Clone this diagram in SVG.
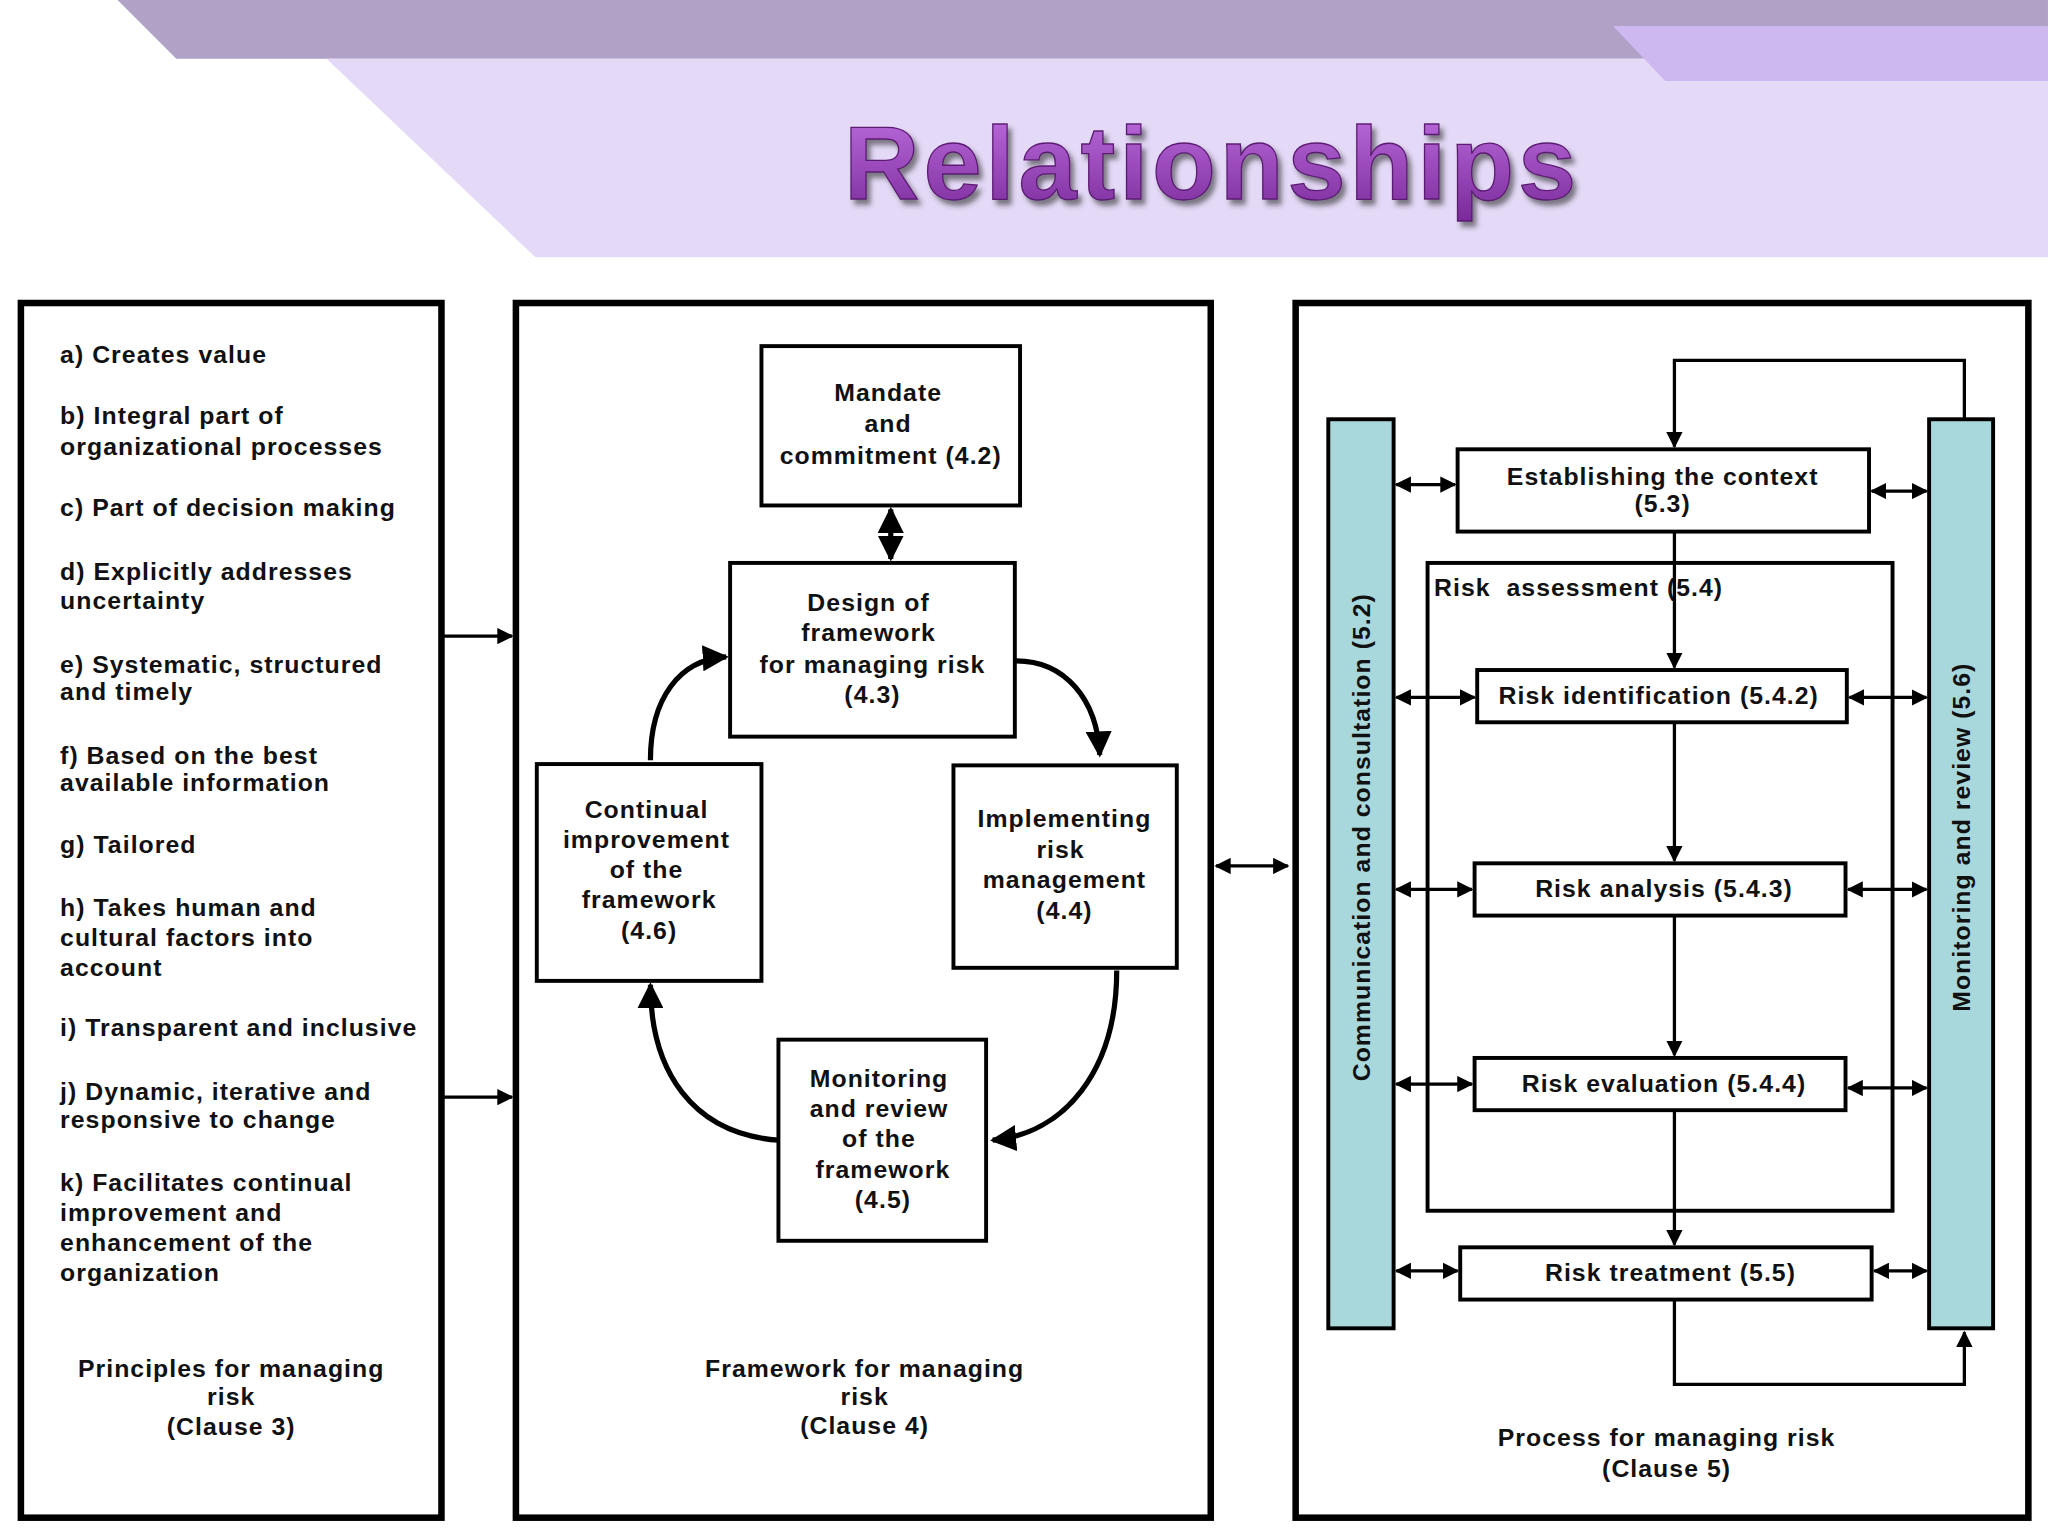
<svg xmlns="http://www.w3.org/2000/svg" width="2048" height="1536" viewBox="0 0 2048 1536">
<defs>
<marker id="ah" viewBox="0 0 10 10" refX="9" refY="5" markerWidth="5" markerHeight="5" orient="auto-start-reverse"><path d="M0,0 L10,5 L0,10 z" fill="#000"/></marker>
<linearGradient id="tg" x1="0" y1="0" x2="0" y2="1"><stop offset="0" stop-color="#c070e0"/><stop offset="1" stop-color="#7a2a9a"/></linearGradient>
<filter id="sh" x="-5%" y="-20%" width="110%" height="150%"><feDropShadow dx="3" dy="4" stdDeviation="2" flood-color="#333" flood-opacity="0.6"/></filter>
<style>
.t{font-family:"Liberation Sans",Arial,sans-serif;font-weight:bold;font-size:19px;fill:#111;letter-spacing:0.8px}
.c{text-anchor:middle}
.b{fill:#fff;stroke:#000;stroke-width:3}
.bar{fill:#a8d8dc;stroke:#000;stroke-width:3}
.ln{fill:none;stroke:#000;stroke-width:2.5}
.cv{fill:none;stroke:#000;stroke-width:4}
</style>
</defs>
<rect width="2048" height="1536" fill="#fff"/>
<g transform="scale(1.3061)">
<g id="header">
<polygon points="90,0 1568,0 1568,45 135,45" fill="#b0a2c6"/>
<polygon points="250,45 1568,45 1568,197 410,197" fill="#e4d9f7"/>
<polygon points="1235,20 1568,20 1568,62 1275,62" fill="#cdb9ef"/>
<text x="928" y="152" text-anchor="middle" font-family="Liberation Sans,Arial,sans-serif" font-weight="bold" font-size="80" letter-spacing="3" fill="url(#tg)" stroke="#5a1a70" stroke-width="1" filter="url(#sh)">Relationships</text>
</g>
<g id="principles">
<rect x="16" y="232" width="322" height="930" fill="#fff" stroke="#000" stroke-width="5"/>
<text class="t" x="46" y="278">a) Creates value</text>
<text class="t" x="46" y="325">b) Integral part of</text><text class="t" x="46" y="348">organizational processes</text>
<text class="t" x="46" y="395">c) Part of decision making</text>
<text class="t" x="46" y="444">d) Explicitly addresses</text><text class="t" x="46" y="466">uncertainty</text>
<text class="t" x="46" y="515">e) Systematic, structured</text><text class="t" x="46" y="536">and timely</text>
<text class="t" x="46" y="585">f) Based on the best</text><text class="t" x="46" y="606">available information</text>
<text class="t" x="46" y="653">g) Tailored</text>
<text class="t" x="46" y="701">h) Takes human and</text><text class="t" x="46" y="724">cultural factors into</text><text class="t" x="46" y="747">account</text>
<text class="t" x="46" y="793">i) Transparent and inclusive</text>
<text class="t" x="46" y="842">j) Dynamic, iterative and</text><text class="t" x="46" y="864">responsive to change</text>
<text class="t" x="46" y="912">k) Facilitates continual</text><text class="t" x="46" y="935">improvement and</text><text class="t" x="46" y="958">enhancement of the</text><text class="t" x="46" y="981">organization</text>
<text class="t c" x="177" y="1054">Principles for managing</text><text class="t c" x="177" y="1076">risk</text><text class="t c" x="177" y="1099">(Clause 3)</text>
</g>
<g id="framework">
<rect x="395" y="232" width="532" height="930" fill="#fff" stroke="#000" stroke-width="5"/>
<text class="t c" x="662" y="1054">Framework for managing</text><text class="t c" x="662" y="1076">risk</text><text class="t c" x="662" y="1098">(Clause 4)</text>
</g>
<g id="n42"><rect class="b" x="583" y="265" width="198" height="122"/>
<text class="t c" x="680" y="307">Mandate</text><text class="t c" x="680" y="331">and</text><text class="t c" x="682" y="355">commitment (4.2)</text></g>
<g id="n43"><rect class="b" x="559" y="431" width="218" height="133"/>
<text class="t c" x="665" y="468">Design of</text><text class="t c" x="665" y="491">framework</text><text class="t c" x="668" y="515">for managing risk</text><text class="t c" x="668" y="538">(4.3)</text></g>
<g id="n44"><rect class="b" x="730" y="586" width="171" height="155"/>
<text class="t c" x="815" y="633">Implementing</text><text class="t c" x="812" y="657">risk</text><text class="t c" x="815" y="680">management</text><text class="t c" x="815" y="704">(4.4)</text></g>
<g id="n45"><rect class="b" x="596" y="796" width="159" height="154"/>
<text class="t c" x="673" y="832">Monitoring</text><text class="t c" x="673" y="855">and review</text><text class="t c" x="673" y="878">of the</text><text class="t c" x="676" y="902">framework</text><text class="t c" x="676" y="925">(4.5)</text></g>
<g id="n46"><rect class="b" x="411" y="585" width="172" height="166"/>
<text class="t c" x="495" y="626">Continual</text><text class="t c" x="495" y="649">improvement</text><text class="t c" x="495" y="672">of the</text><text class="t c" x="497" y="695">framework</text><text class="t c" x="497" y="719">(4.6)</text></g>
<g id="process">
<rect x="992" y="232" width="561" height="930" fill="#fff" stroke="#000" stroke-width="5"/>
<rect x="1093" y="431" width="356" height="496" fill="none" stroke="#000" stroke-width="3"/>
<text class="t" x="1098" y="456" xml:space="preserve">Risk  assessment (5.4)</text>
<text class="t c" x="1276" y="1107">Process for managing risk</text><text class="t c" x="1276" y="1131">(Clause 5)</text>
</g>
<g id="n52"><rect class="bar" x="1017" y="321" width="50" height="696"/>
<text class="t c" transform="translate(1049,641) rotate(-90)">Communication and consultation (5.2)</text></g>
<g id="n56"><rect class="bar" x="1477" y="321" width="49" height="696"/>
<text class="t c" transform="translate(1508,641) rotate(-90)">Monitoring and review (5.6)</text></g>
<g id="n53"><rect class="b" x="1116" y="344" width="315" height="63"/>
<text class="t c" x="1273" y="371">Establishing the context</text><text class="t c" x="1273" y="392">(5.3)</text></g>
<g id="n542"><rect class="b" x="1131" y="513" width="283" height="40"/><text class="t c" x="1270" y="539">Risk identification (5.4.2)</text></g>
<g id="n543"><rect class="b" x="1129" y="661" width="284" height="40"/><text class="t c" x="1274" y="687">Risk analysis (5.4.3)</text></g>
<g id="n544"><rect class="b" x="1129" y="810" width="284" height="40"/><text class="t c" x="1274" y="836">Risk evaluation (5.4.4)</text></g>
<g id="n55"><rect class="b" x="1118" y="955" width="315" height="40"/><text class="t c" x="1279" y="981">Risk treatment (5.5)</text></g>
<g id="connectors">
<line class="ln" x1="340" y1="487" x2="392" y2="487" marker-end="url(#ah)"/>
<line class="ln" x1="340" y1="840" x2="392" y2="840" marker-end="url(#ah)"/>
<line class="ln" x1="931" y1="663" x2="986" y2="663" marker-start="url(#ah)" marker-end="url(#ah)"/>
<line x1="682" y1="390" x2="682" y2="428" stroke="#000" stroke-width="4" marker-start="url(#ah)" marker-end="url(#ah)"/>
<path class="cv" d="M778,506 C815,506 840,535 842,578" marker-end="url(#ah)"/>
<path class="cv" d="M855,743 C855,820 815,868 760,873" marker-end="url(#ah)"/>
<path class="cv" d="M596,873 C530,868 498,820 498,754" marker-end="url(#ah)"/>
<path class="cv" d="M498,582 C498,535 520,505 556,503" marker-end="url(#ah)"/>
<path class="ln" d="M1504,321 V276 H1282 V342" marker-end="url(#ah)"/>
<line class="ln" x1="1282" y1="407" x2="1282" y2="511" marker-end="url(#ah)"/>
<line class="ln" x1="1282" y1="553" x2="1282" y2="659" marker-end="url(#ah)"/>
<line class="ln" x1="1282" y1="701" x2="1282" y2="808" marker-end="url(#ah)"/>
<line class="ln" x1="1282" y1="850" x2="1282" y2="953" marker-end="url(#ah)"/>
<path class="ln" d="M1282,995 V1060 H1504 V1020" marker-end="url(#ah)"/>
<line class="ln" x1="1069" y1="371" x2="1114" y2="371" marker-start="url(#ah)" marker-end="url(#ah)"/>
<line class="ln" x1="1433" y1="376" x2="1475" y2="376" marker-start="url(#ah)" marker-end="url(#ah)"/>
<line class="ln" x1="1069" y1="534" x2="1129" y2="534" marker-start="url(#ah)" marker-end="url(#ah)"/>
<line class="ln" x1="1416" y1="534" x2="1475" y2="534" marker-start="url(#ah)" marker-end="url(#ah)"/>
<line class="ln" x1="1069" y1="681" x2="1127" y2="681" marker-start="url(#ah)" marker-end="url(#ah)"/>
<line class="ln" x1="1415" y1="681" x2="1475" y2="681" marker-start="url(#ah)" marker-end="url(#ah)"/>
<line class="ln" x1="1069" y1="830" x2="1127" y2="830" marker-start="url(#ah)" marker-end="url(#ah)"/>
<line class="ln" x1="1415" y1="833" x2="1475" y2="833" marker-start="url(#ah)" marker-end="url(#ah)"/>
<line class="ln" x1="1069" y1="973" x2="1116" y2="973" marker-start="url(#ah)" marker-end="url(#ah)"/>
<line class="ln" x1="1435" y1="973" x2="1475" y2="973" marker-start="url(#ah)" marker-end="url(#ah)"/>
</g>
</g>
</svg>
